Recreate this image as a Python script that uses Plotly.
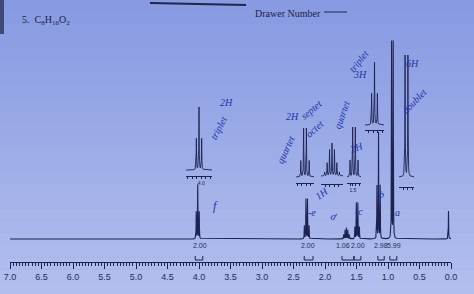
import numpy as np
import plotly.graph_objects as go

# ---------------- data ----------------
peak_labels = ["f", "e", "d", "c", "b", "a", "TMS"]
shift_ppm = [4.02, 2.29, 1.66, 1.49, 1.15, 0.93, 0.04]
coupling_ppm = [0.024, 0.025, 0.022, 0.024, 0.026, 0.026, 0.0]
line_patterns = [[1, 2, 1], [1, 3, 3, 1], [1, 8, 28, 56, 70, 56, 28, 8, 1],
                 [1, 3, 3, 1], [1, 2, 1], [1, 1], [1]]
peak_height = [0.273, 0.202, 0.056, 0.182, 0.535, 1.0, 0.141]

integral_values = ["2.00", "2.00", "1.06", "2.00", "2.98", "5.99"]
integral_from = [4.06, 2.33, 1.73, 1.54, 1.16, 0.97]
integral_to = [3.94, 2.19, 1.54, 1.43, 1.06, 0.86]
integral_label_ppm = [3.99, 2.27, 1.72, 1.48, 1.11, 0.90]

x_tick_vals = [7.0, 6.5, 6.0, 5.5, 5.0, 4.5, 4.0, 3.5, 3.0, 2.5, 2.0, 1.5, 1.0, 0.5, 0.0]
x_tick_text = ["7.0", "6.5", "6.0", "5.5", "5.0", "4.5", "4.0", "3.5", "3.0",
               "2.5", "2.0", "1.5", "1.0", "0.5", "0.0"]

# ---------------- layout constants (pixels in a 474x294 page) ----------------
W, H = 474, 294
INK = "#1c2352"
PEN = "#2033a6"


def py(p):
    return 1 - p / H


def px(p):
    return p / W


BASE, RULER, TOP, UNIT = 239, 262, 36, 198

# inset boxes: x0, x1, top, baseline, scale line (pixels)
inset_boxes = [(186, 212, 107, 170, 176), (296, 314, 128, 177, 183),
               (321, 343, 143, 176, 184), (347, 361, 127, 177, 183),
               (365, 384, 62, 125, 130), (399, 414, 55, 177, 187)]
inset_ticklabel = [["4.0"], [], [], ["1.5"], [], []]
inset_tickval = [[4.0], [], [], [1.5], [], []]
PPM_PER_PX = 0.009


def spectrum(x, idx, hw):
    n = len(line_patterns[idx])
    pat = np.array(line_patterns[idx], float)
    offs = (np.arange(n) - (n - 1) / 2) * coupling_ppm[idx]
    y = np.zeros_like(x)
    for a, o in zip(pat / pat.max(), offs):
        y += a * hw ** 2 / ((x - shift_ppm[idx] - o) ** 2 + hw ** 2)
    return y


fig = go.Figure()

# main spectrum
xm = np.arange(-0.02, 7.0, 0.0004)
ym = np.zeros_like(xm)
for i in range(len(shift_ppm)):
    ym += peak_height[i] * spectrum(xm, i, 0.0025)
fig.add_trace(go.Scatter(x=xm, y=ym, mode="lines", line=dict(color=INK, width=1.1),
                         hoverinfo="skip", showlegend=False))

layout_axes = {}
layout_axes["xaxis"] = dict(domain=[px(10), px(451)], range=[7.0, 0.0], showline=True,
                            linecolor=INK, linewidth=1.2, ticks="outside", ticklen=6,
                            tickwidth=1, tickcolor=INK, tickvals=x_tick_vals,
                            ticktext=x_tick_text, showgrid=False, zeroline=False,
                            automargin=False,
                            tickfont=dict(family="Liberation Sans", size=9, color="#262d5c"),
                            minor=dict(dtick=0.05, ticklen=3, tickcolor=INK, ticks="outside",
                                       tickwidth=1, showgrid=False),
                            anchor="y")
layout_axes["yaxis"] = dict(domain=[py(RULER), py(TOP)],
                            range=[-(RULER - BASE) / UNIT, (BASE - TOP) / UNIT],
                            visible=False, anchor="x", automargin=False)

# expansions
for k, (x0, x1, t, b, s) in enumerate(inset_boxes):
    n = k + 2
    c = shift_ppm[k]
    half = (x1 - x0) / 2 * PPM_PER_PX
    xi = np.arange(c - half, c + half, 0.0002)
    yi = spectrum(xi, k, 0.0018)
    yi = yi / yi.max()
    fig.add_trace(go.Scatter(x=xi, y=yi, mode="lines", line=dict(color=INK, width=0.9),
                             xaxis=f"x{n}", yaxis=f"y{n}", hoverinfo="skip",
                             showlegend=False))
    layout_axes[f"xaxis{n}"] = dict(domain=[px(x0), px(x1)], range=[c + half, c - half],
                                    showline=True, linecolor=INK, linewidth=1,
                                    ticks="outside", ticklen=2, tickcolor=INK,
                                    tickvals=inset_tickval[k], ticktext=inset_ticklabel[k],
                                    tickfont=dict(family="Liberation Sans", size=5, color=INK),
                                    minor=dict(dtick=0.04, ticklen=2, ticks="outside",
                                               tickcolor=INK),
                                    automargin=False,
                                    showgrid=False, zeroline=False, anchor=f"y{n}")
    layout_axes[f"yaxis{n}"] = dict(domain=[py(s), py(t - 1)],
                                    range=[-(s - b) / (b - t), 1 + 1 / (b - t)],
                                    visible=False, anchor=f"x{n}", automargin=False)

# background (photo light gradient)
shapes = []
top_c = np.array([136, 154, 226])
bot_c = np.array([178, 191, 238])
NB = 24
for i in range(NB):
    f = i / (NB - 1)
    cc = (top_c * (1 - f) + bot_c * f).astype(int)
    shapes.append(dict(type="rect", xref="paper", yref="paper", x0=0, x1=1,
                       y0=1 - (i + 1) / NB, y1=1 - i / NB, layer="below",
                       line=dict(width=0), fillcolor=f"rgb({cc[0]},{cc[1]},{cc[2]})"))
# binder shadow and header rules
shapes.append(dict(type="rect", xref="paper", yref="paper", x0=0, x1=px(4), y0=py(34), y1=1,
                   line=dict(width=0), fillcolor="rgba(40,45,80,0.75)"))
shapes.append(dict(type="line", xref="paper", yref="paper", x0=px(150), x1=px(246),
                   y0=py(3), y1=py(5), line=dict(color="#20264a", width=2)))
shapes.append(dict(type="line", xref="paper", yref="paper", x0=px(324), x1=px(347),
                   y0=py(12), y1=py(12), line=dict(color="#20264a", width=1)))

# integration brackets
for a, b_ in zip(integral_from, integral_to):
    shapes.append(dict(type="path", xref="x", yref="paper",
                       path=f"M {a},{py(256)} L {a},{py(260)} L {b_},{py(260)} L {b_},{py(256)}",
                       line=dict(color=INK, width=1)))

annotations = []
for v, p in zip(integral_values, integral_label_ppm):
    annotations.append(dict(x=p, y=py(251), xref="x", yref="paper", text=v, showarrow=False,
                            font=dict(family="Liberation Sans Narrow, Liberation Sans", size=7,
                                      color="#262d5c")))

annotations.append(dict(x=px(20), y=py(12), xref="paper", yref="paper", xanchor="left",
                        text="5.  C<sub>8</sub>H<sub>16</sub>O<sub>2</sub>", showarrow=False,
                        font=dict(family="Liberation Serif", size=10, color="#1d2244")))
annotations.append(dict(x=px(253), y=py(6), xref="paper", yref="paper", xanchor="left",
                        text="Drawer Number", showarrow=False,
                        font=dict(family="Liberation Serif", size=10, color="#1d2244")))

# handwriting: text, x px, y px, angle, size
notes = [("2H", 226, 95, 0, 10), ("triplet", 218, 128, -62, 10), ("f", 215, 215, 0, 12),
         ("2H", 292, 116, 0, 10), ("quartet", 285, 150, -65, 10),
         ("septet", 327, 109, -40, 10), ("octet", 329, 129, -42, 10),
         ("quartet", 354, 115, -70, 10), ("2H", 367, 147, -20, 10),
         ("1H", 333, 193, -35, 10), ("triplet", 373, 45, -52, 10),
         ("3H", 369, 67, 0, 10), ("6H", 421, 56, 0, 10), ("doublet", 431, 101, -45, 10),
         ("a", 402, 220, 0, 10), ("b", 386, 202, 0, 10), ("-c", 365, 219, 0, 10),
         ("d", 341, 225, 20, 10), ("-e", 318, 220, 0, 10)]
for t, x, y, ang, sz in notes:
    annotations.append(dict(x=px(x), y=py(y), xref="paper", yref="paper", text=t,
                            showarrow=False, textangle=ang,
                            font=dict(family="Liberation Serif", size=sz, color=PEN,
                                      style="italic")))

fig.update_layout(width=W, height=H, margin=dict(l=0, r=0, t=0, b=0, autoexpand=False),
                  paper_bgcolor="rgb(150,166,230)", plot_bgcolor="rgba(0,0,0,0)",
                  shapes=shapes, annotations=annotations, showlegend=False, **layout_axes)

fig.write_html("out.html")
